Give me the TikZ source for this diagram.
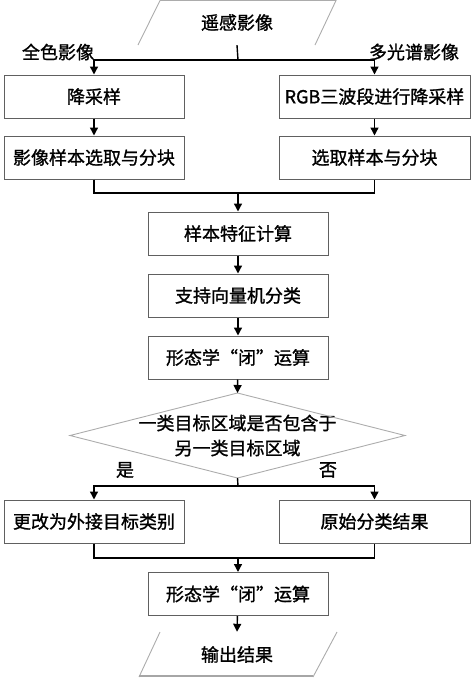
\documentclass[tikz,border=0pt]{standalone}
\usepackage{fontspec}
\setmainfont{Noto Sans CJK SC}[AutoFakeBold=1.2]
\usepackage{tikz}
\usetikzlibrary{arrows.meta, positioning, calc}

\begin{document}
\begin{tikzpicture}[
    x=1pt, y=1pt,
    box/.style={draw=gray!75!black, line width=1pt, minimum width=180pt, minimum height=43pt, inner sep=0pt, align=center, font=\fontsize{18}{22}\selectfont\bfseries},
    wbox/.style={box, minimum width=191pt},
    io/.style={minimum width=176pt, minimum height=45pt, inner sep=0pt, font=\fontsize{18}{22}\selectfont\bfseries},
    frame/.style={draw=gray!65, line width=0.9pt},
    arr/.style={-{Triangle[length=8pt, width=8pt]}, line width=1.4pt},
    link/.style={line width=1.4pt},
    tag/.style={font=\fontsize{18}{22}\selectfont\bfseries},
]
\useasboundingbox (0,0) rectangle (474,-678);

% input image
\node[io] (img) at (237,-22.5) {遥感影像};
\draw[frame] ($(img)+(-99,-22.5)$) -- ($(img)+(-77,22)$) -- ($(img)+(99,22)$) -- ($(img)+(78,-22.5)$);

\node[tag] at (58,-52) {全色影像};
\node[tag] at (414,-52) {多光谱影像};

% two branches
\node[box] (pan) at (94,-96.5) {降采样};
\node[wbox] (ms) at (374.5,-96.5) {RGB三波段进行降采样};
\node[box, below=17pt of pan] (panblk) {影像样本选取与分块};
\node[wbox, below=17pt of ms] (msblk) {选取样本与分块};

% main column
\node[box] (feat) at (238,-233.5) {样本特征计算};
\node[box, below=18pt of feat] (svm) {支持向量机分类};
\node[box, below=18pt of svm] (close) {形态学“闭”运算};

% decision
\node[align=center, font=\fontsize{18}{25}\selectfont\bfseries] (dec) at (237.5,-435.5) {一类目标区域是否包含于\\另一类目标区域};
\coordinate (dectop) at ($(dec)+(0,42.5)$);
\coordinate (decbot) at ($(dec)+(0,-42.5)$);
\draw[frame] ($(dec)+(-167.5,0)$) -- (dectop) -- ($(dec)+(167.5,0)$) -- (decbot) -- cycle;

\node[tag] at (125,-470) {是};
\node[tag] at (328,-470) {否};

\node[box] (chg) at (94,-521.5) {更改为外接目标类别};
\node[wbox] (orig) at (374.5,-521.5) {原始分类结果};
\node[box] (close2) at (238,-594) {形态学“闭”运算};

% output
\node[io] (out) at (237,-654.5) {输出结果};
\draw[frame] ($(out)+(-77,22.5)$) -- ($(out)+(-98,-22.5)$);
\draw[frame] ($(out)+(100,22.5)$) -- ($(out)+(76,-22.5)$);
\draw[draw=gray!70, line width=2.5pt] ($(out)+(-98,-21.5)$) -- ($(out)+(76,-21.5)$);

% connectors
\coordinate (split1) at (238,-60);
\coordinate (join1) at (238,-193);
\coordinate (split2) at (238,-486);
\coordinate (join2) at (238,-558);

\draw[link] (img.south) -- (split1);
\draw[arr] (split1) -| (pan.north);
\draw[arr] (split1) -| (ms.north);
\draw[arr] (pan) -- (panblk);
\draw[arr] (ms) -- (msblk);
\draw[link] (panblk.south) |- (join1) -| (msblk.south);
\draw[arr] (join1) -- (feat.north);
\draw[arr] (feat) -- (svm);
\draw[arr] (svm) -- (close);
\draw[arr] (close) -- (dectop);
\draw[link] (decbot) -- (split2);
\draw[arr] (split2) -| (chg.north);
\draw[arr] (split2) -| (orig.north);
\draw[link] (chg.south) |- (join2) -| (orig.south);
\draw[arr] (join2) -- (close2.north);
\draw[arr] (close2) -- (out.north);

\end{tikzpicture}
\end{document}
